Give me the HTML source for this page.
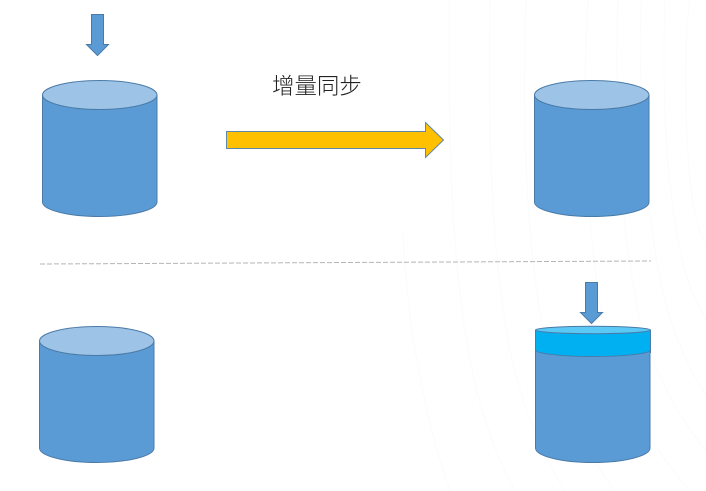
<!DOCTYPE html>
<html>
<head>
<meta charset="utf-8">
<style>
html,body{margin:0;padding:0;background:#fff;}
body{width:706px;height:491px;overflow:hidden;position:relative;}
svg{position:absolute;left:0;top:0;}
</style>
</head>
<body>
<svg width="706" height="491" viewBox="0 0 706 491" xmlns="http://www.w3.org/2000/svg">
<defs>
<g id="cyl">
<path d="M0 14.5 V121.5 C0 129.5 25.7 136 57.25 136 C88.8 136 114.5 129.5 114.5 121.5 V14.5 Z" fill="#5b9bd5" stroke="#4a7ba8" stroke-width="1"/>
<ellipse cx="57.25" cy="14.5" rx="57.25" ry="14.5" fill="#9dc3e6" stroke="#4a7ba8" stroke-width="1"/>
</g>
</defs>
<g fill="none" stroke="#fafbfd" stroke-width="1">
<path d="M449 0 C449 120 449 250 470 360 C480 410 495 455 515 491"/>
<path d="M490 0 C488 120 490 250 510 350 C520 400 540 450 565 491"/>
<path d="M526 0 C522 120 525 240 545 340 C558 400 585 450 615 491"/>
<path d="M588 0 C582 100 585 230 605 330 C618 390 650 445 690 491"/>
<path d="M618 0 C614 100 620 230 640 320 C655 375 680 420 706 450"/>
<path d="M641 0 C638 100 645 220 665 300 C675 340 690 370 706 395"/>
<path d="M665 0 C662 80 665 180 680 250 C686 280 695 300 706 320"/>
<path d="M690 0 C684 40 684 110 690 180 C693 210 698 230 706 245"/>
<path d="M403 230 C406 320 425 420 450 491"/>
</g>

<!-- divider -->
<line x1="40" y1="264" x2="651" y2="261" stroke="#b5b5b5" stroke-width="1" stroke-dasharray="5 2"/>

<!-- top-left -->
<path d="M91.5 14.5 H103.5 V44.5 H108.5 L97.5 55.5 L86.5 44.5 H91.5 Z" fill="#5b9bd5" stroke="#4a7ba8" stroke-width="1"/>
<use href="#cyl" x="42.5" y="80.5"/>

<!-- top-right -->
<use href="#cyl" x="534.5" y="80.5"/>

<!-- bottom-left -->
<use href="#cyl" x="39.5" y="326.5"/>

<!-- bottom-right -->
<use href="#cyl" x="535.5" y="326.5"/>
<path d="M535.5 330 V350 C535.5 353.5 561 356.5 593 356.5 C625 356.5 650.5 353.5 650.5 350 V330 Z" fill="#00b0f0"/>
<path d="M535.5 350 C535.5 353.5 561 356.5 593 356.5 C625 356.5 650.5 353.5 650.5 350" fill="none" stroke="#4a7ba8" stroke-width="1"/>
<path d="M535.5 330 V353 M650.5 330 V353" fill="none" stroke="#4a7ba8" stroke-width="1"/>
<ellipse cx="593" cy="330" rx="57.5" ry="3.7" fill="#5bc8f5" stroke="#4a7ba8" stroke-width="1"/>
<path d="M585.5 282.5 H597.5 V312.5 H602.5 L591.5 323.5 L580.5 312.5 H585.5 Z" fill="#5b9bd5" stroke="#4a7ba8" stroke-width="1"/>

<!-- yellow arrow -->
<path d="M226.5 131.5 H425.5 V122.5 L443.5 140 L425.5 157.5 V148.5 H226.5 Z" fill="#ffc000" stroke="#5f87a8" stroke-width="1"/>
<text x="272" y="94" font-family="'Liberation Sans','Noto Sans CJK SC',sans-serif" font-size="22.5" font-weight="300" letter-spacing="0.1" fill="#222" textLength="90" lengthAdjust="spacing">增量同步</text>
</svg>
</body>
</html>
